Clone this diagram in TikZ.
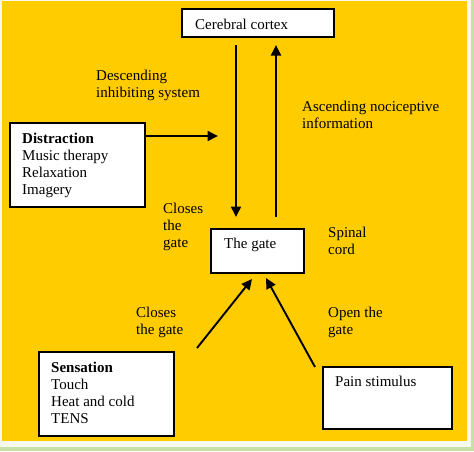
\documentclass[tikz,border=0pt]{standalone}
\usepackage{fontspec}
\setmainfont{Liberation Serif}
\usetikzlibrary{arrows.meta}
\definecolor{bgyellow}{RGB}{255,204,0}
\definecolor{bggreen}{RGB}{200,224,165}
\definecolor{bgpale}{RGB}{246,248,238}
\begin{document}
\begin{tikzpicture}[x=1pt,y=-1pt,
  box/.style={draw=black,fill=white,line width=1.5pt,inner sep=0pt,anchor=north west},
  txt/.style={inner sep=0pt,anchor=base west,font=\fontsize{15}{17}\selectfont},
  arr/.style={line width=1.9pt,-{Triangle[length=10.5pt,width=10pt]}}]
% background
\fill[bgpale] (0,0) rectangle (474,451);
\fill[bggreen] (471,0) rectangle (474,451);
\fill[bggreen] (0,447) rectangle (474,451);
\fill[bgyellow] (2,1) rectangle (467,441);
\useasboundingbox (0,0) rectangle (474,451);
% boxes
\node[box,minimum width=152pt,minimum height=28pt] (cortex) at (181,8) {};
\node[box,minimum width=135pt,minimum height=84pt] (distr) at (9,122) {};
\node[box,minimum width=93pt,minimum height=44pt] (gate) at (210,228) {};
\node[box,minimum width=135pt,minimum height=84pt] (sens) at (38,351) {};
\node[box,minimum width=129pt,minimum height=62pt] (pain) at (322,366) {};
% box texts
\node[txt] (tcortex) at (195,29) {Cerebral cortex};
\node[txt] (td1) at (22,143) {\textbf{Distraction}};
\node[txt] (td2) at (22,160) {Music therapy};
\node[txt] (td3) at (22,177) {Relaxation};
\node[txt] (td4) at (22,194) {Imagery};
\node[txt] (tgate) at (224,248) {The gate};
\node[txt] (ts1) at (51,372) {\textbf{Sensation}};
\node[txt] (ts2) at (51,389) {Touch};
\node[txt] (ts3) at (51,406) {Heat and cold};
\node[txt] (ts4) at (51,423) {TENS};
\node[txt] (tpain) at (335,386) {Pain stimulus};
% labels
\node[txt] (l1a) at (96,80) {Descending};
\node[txt] (l1b) at (96,97) {inhibiting system};
\node[txt] (l2a) at (302,111) {Ascending nociceptive};
\node[txt] (l2b) at (302,128) {information};
\node[txt] (l3a) at (163,213) {Closes};
\node[txt] (l3b) at (163,230) {the};
\node[txt] (l3c) at (163,247) {gate};
\node[txt] (l4a) at (328,237) {Spinal};
\node[txt] (l4b) at (328,254) {cord};
\node[txt] (l5a) at (136,317) {Closes};
\node[txt] (l5b) at (136,334) {the gate};
\node[txt] (l6a) at (328,317) {Open the};
\node[txt] (l6b) at (328,334) {gate};
% arrow end points
\coordinate (dstart) at (236,45);
\coordinate (dend) at (236,217);
\coordinate (astart) at (276,217);
\coordinate (aend) at (276,45);
\coordinate (xend) at (218,136);
\coordinate (sstart) at (197,348);
\coordinate (send) at (252,279);
\coordinate (pstart) at (315,367);
\coordinate (pend) at (266,278);
% arrows
\draw[arr] (dstart) -- (dend);
\draw[arr] (astart) -- (aend);
\draw[arr] (distr.east |- xend) -- (xend);
\draw[arr] (sstart) -- (send);
\draw[arr] (pstart) -- (pend);
\end{tikzpicture}
\end{document}
